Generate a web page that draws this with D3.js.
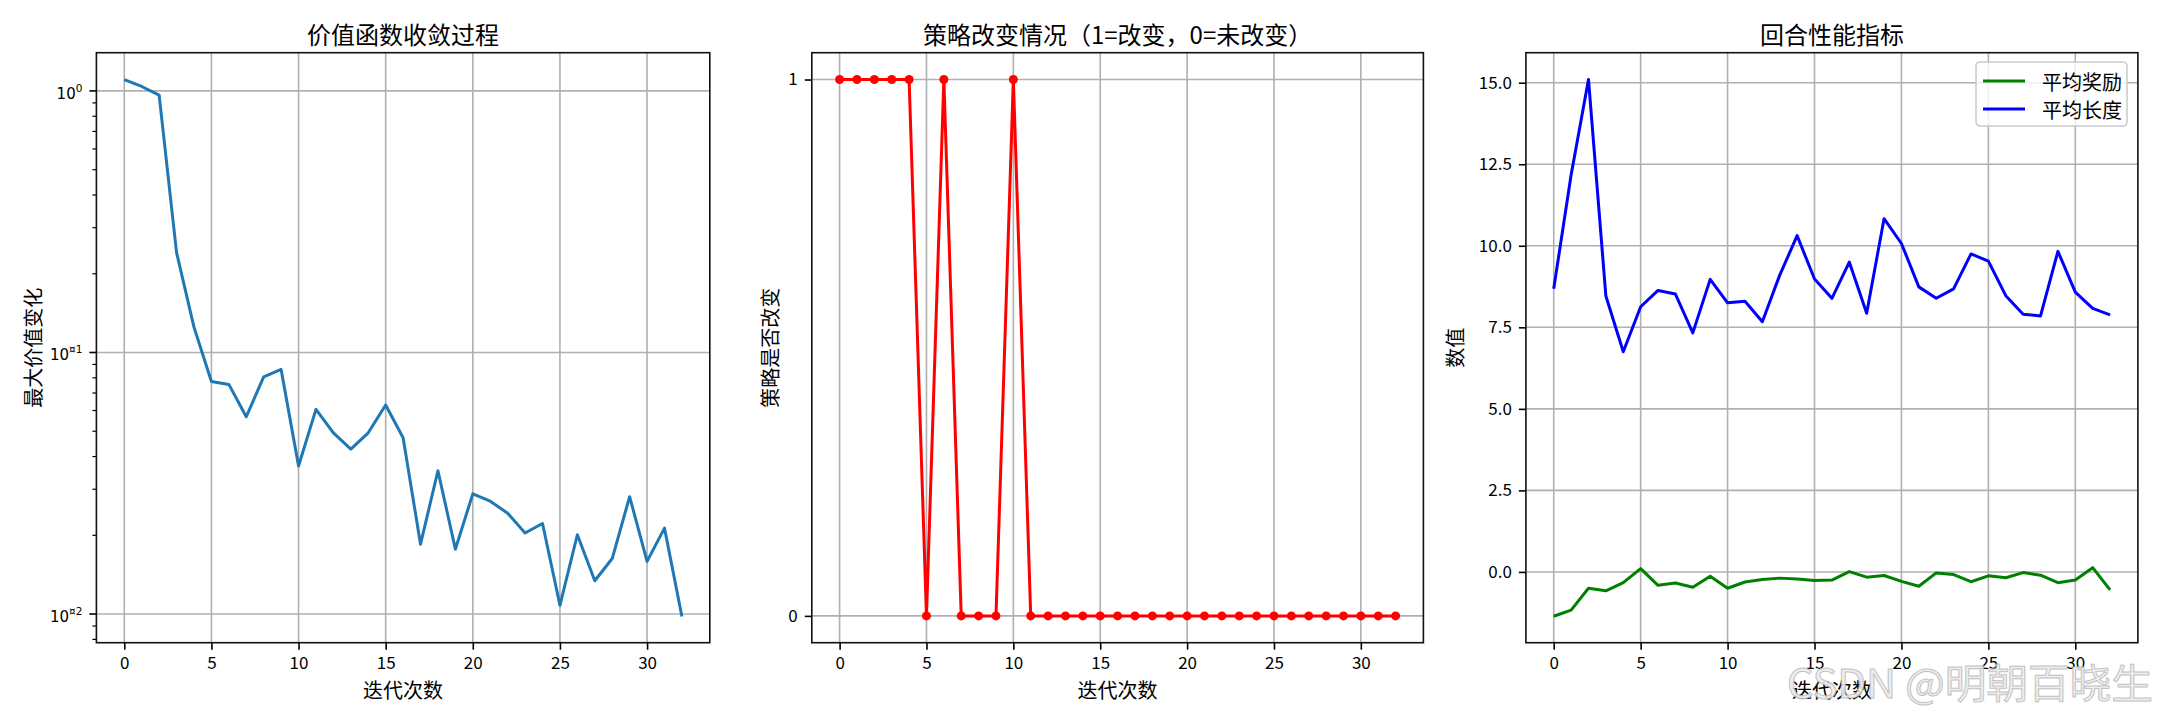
<!DOCTYPE html>
<html>
<head>
<meta charset="utf-8">
<script src="https://cdn.jsdelivr.net/npm/d3@7"></script>
<style>
  body { margin: 0; background: #fff; }
  svg { display: block; font-family: "Noto Sans CJK SC", "Noto Sans", sans-serif; }
</style>
</head>
<body>
<svg id="chart" width="2160" height="720"></svg>
<script>
// iteration index on the x axis
const iterations = [0,1,2,3,4,5,6,7,8,9,10,11,12,13,14,15,16,17,18,19,20,21,22,23,24,25,26,27,28,29,30,31,32];
const xTicks = [0, 5, 10, 15, 20, 25, 30];

// panel 1: max value change per iteration (log scale)
const maxDelta = [1.105, 1.04, 0.963, 0.241, 0.125, 0.0775, 0.0755, 0.0568, 0.0807, 0.0861,
  0.0368, 0.0606, 0.0493, 0.0427, 0.0493, 0.0630, 0.0472, 0.0185, 0.0353, 0.0177,
  0.0288, 0.0270, 0.0243, 0.0204, 0.0222, 0.0108, 0.0201, 0.0134, 0.0163, 0.0281,
  0.0159, 0.0213, 0.00978];
const logTicks = [1, 0.1, 0.01];
const logTickLabels = ["0", "¤1", "¤2"];

// panel 2: policy changed (1) or not (0)
const policyChanged = [1,1,1,1,1,0,1,0,0,0,1,0,0,0,0,0,0,0,0,0,0,0,0,0,0,0,0,0,0,0,0,0,0];
const policyTicks = [0, 1];

// panel 3: episode metrics
const avgReward = [-1.36, -1.17, -0.50, -0.58, -0.33, 0.10, -0.41, -0.34, -0.47, -0.13,
  -0.50, -0.31, -0.23, -0.19, -0.22, -0.26, -0.25, 0.01, -0.16, -0.11,
  -0.29, -0.44, -0.03, -0.08, -0.30, -0.12, -0.18, -0.02, -0.10, -0.33,
  -0.25, 0.13, -0.55];
const avgLength = [8.68, 12.17, 15.10, 8.46, 6.75, 8.13, 8.63, 8.52, 7.33, 8.97,
  8.25, 8.30, 7.67, 9.10, 10.31, 8.98, 8.39, 9.50, 7.93, 10.83,
  10.07, 8.74, 8.39, 8.68, 9.75, 9.53, 8.47, 7.90, 7.85, 9.83,
  8.58, 8.08, 7.88];
const metricTicks = [0, 2.5, 5, 7.5, 10, 12.5, 15];
const metricNames = ["平均奖励", "平均长度"];
const metricColors = ["green", "blue"];

const titles = ["价值函数收敛过程", "策略改变情况（1=改变，0=未改变）", "回合性能指标"];
const yLabels = ["最大价值变化", "策略是否改变", "数值"];
const xLabel = "迭代次数";

// layout
const plotTop = 52.7, plotBottom = 642.7;
const panels = [
  { left: 96.4, right: 709.8, ylab: 32 },
  { left: 811.8, right: 1423.4, ylab: 769 },
  { left: 1525.9, right: 2137.9, ylab: 1454 }
];
const gridColor = "#b0b0b0";
const tickLen = 7, tickPad = 7;

const svg = d3.select("#chart");

function xScale(p) {
  return d3.scaleLinear().domain([-1.6, 33.6]).range([p.left, p.right]);
}

function drawFrame(i, x, y, yTicks, yFormat) {
  const p = panels[i];
  const g = svg.append("g");

  // grid
  g.selectAll(".vg").data(xTicks).enter().append("line")
    .attr("x1", d => x(d)).attr("x2", d => x(d))
    .attr("y1", plotTop).attr("y2", plotBottom)
    .attr("stroke", gridColor).attr("stroke-width", 1.6);
  g.selectAll(".hg").data(yTicks).enter().append("line")
    .attr("x1", p.left).attr("x2", p.right)
    .attr("y1", d => y(d)).attr("y2", d => y(d))
    .attr("stroke", gridColor).attr("stroke-width", 1.6);

  // x axis
  const xa = svg.append("g").attr("transform", `translate(0,${plotBottom})`)
    .call(d3.axisBottom(x).tickValues(xTicks).tickSize(tickLen).tickPadding(tickPad).tickFormat(d3.format("d")));
  xa.select(".domain").remove();
  xa.selectAll("line").attr("stroke", "#000").attr("stroke-width", 1.6);
  xa.selectAll("text").attr("font-size", 17).attr("fill", "#000")
    .attr("font-family", "Noto Sans CJK SC");

  // y axis
  if (yFormat) {
    const ya = svg.append("g").attr("transform", `translate(${p.left},0)`)
      .call(d3.axisLeft(y).tickValues(yTicks).tickSize(tickLen).tickPadding(tickPad).tickFormat(yFormat));
    ya.select(".domain").remove();
    ya.selectAll("line").attr("stroke", "#000").attr("stroke-width", 1.6);
    ya.selectAll("text").attr("font-size", 17).attr("fill", "#000")
      .attr("font-family", "Noto Sans CJK SC");
  }

  // title and labels
  svg.append("text")
    .attr("x", (p.left + p.right) / 2).attr("y", 33)
    .attr("text-anchor", "middle").attr("dominant-baseline", "central")
    .attr("font-size", 24).text(titles[i]);
  svg.append("text")
    .attr("x", (p.left + p.right) / 2).attr("y", 689)
    .attr("text-anchor", "middle").attr("dominant-baseline", "central")
    .attr("font-size", 20).text(xLabel);
  svg.append("text")
    .attr("transform", `translate(${p.ylab},${(plotTop + plotBottom) / 2}) rotate(-90)`)
    .attr("text-anchor", "middle").attr("dominant-baseline", "central")
    .attr("font-size", 20).text(yLabels[i]);
}

function drawSpines(i) {
  const p = panels[i];
  svg.append("rect")
    .attr("x", p.left).attr("y", plotTop)
    .attr("width", p.right - p.left).attr("height", plotBottom - plotTop)
    .attr("fill", "none").attr("stroke", "#111").attr("stroke-width", 1.6);
}

// ---------- panel 1 ----------
{
  const x = xScale(panels[0]);
  const y = d3.scaleLog().domain([0.00777, 1.40]).range([plotBottom, plotTop]);
  drawFrame(0, x, y, logTicks, null);

  // log ticks (major + minor)
  const minor = [];
  [0.001, 0.01, 0.1, 1].forEach(b => {
    for (let k = 2; k <= 9; k++) {
      const v = b * k;
      if (v >= 0.00777 && v <= 1.40) minor.push(v);
    }
  });
  const left = panels[0].left;
  svg.append("g").selectAll("line").data(minor).enter().append("line")
    .attr("x1", left - 4).attr("x2", left)
    .attr("y1", d => y(d)).attr("y2", d => y(d))
    .attr("stroke", "#000").attr("stroke-width", 1.2);
  svg.append("g").selectAll("line").data(logTicks).enter().append("line")
    .attr("x1", left - tickLen).attr("x2", left)
    .attr("y1", d => y(d)).attr("y2", d => y(d))
    .attr("stroke", "#000").attr("stroke-width", 1.6);
  const lbl = svg.append("g").selectAll("text").data(logTicks).enter().append("text")
    .attr("x", left - tickLen - tickPad)
    .attr("y", d => y(d) + 8)
    .attr("text-anchor", "end")
    .attr("font-family", "DejaVu Sans")
    .attr("font-size", 15);
  lbl.append("tspan").text("10");
  lbl.append("tspan").attr("dy", -7).attr("font-size", 10.5).text((d, j) => logTickLabels[j]);

  svg.append("path")
    .datum(maxDelta)
    .attr("fill", "none").attr("stroke", "#1f77b4").attr("stroke-width", 3)
    .attr("stroke-linejoin", "round")
    .attr("d", d3.line().x((d, j) => x(iterations[j])).y(d => y(d)));
  drawSpines(0);
}

// ---------- panel 2 ----------
{
  const x = xScale(panels[1]);
  const y = d3.scaleLinear().domain([-0.05, 1.05]).range([plotBottom, plotTop]);
  drawFrame(1, x, y, policyTicks, d3.format("d"));
  svg.append("path")
    .datum(policyChanged)
    .attr("fill", "none").attr("stroke", "red").attr("stroke-width", 3)
    .attr("d", d3.line().x((d, j) => x(iterations[j])).y(d => y(d)));
  svg.append("g").selectAll("circle").data(policyChanged).enter().append("circle")
    .attr("cx", (d, j) => x(iterations[j])).attr("cy", d => y(d))
    .attr("r", 4.5).attr("fill", "red");
  drawSpines(1);
}

// ---------- panel 3 ----------
{
  const x = xScale(panels[2]);
  const y = d3.scaleLinear().domain([-2.17, 15.92]).range([plotBottom, plotTop]);
  drawFrame(2, x, y, metricTicks, d3.format(".1f"));
  [avgReward, avgLength].forEach((series, k) => {
    svg.append("path")
      .datum(series)
      .attr("fill", "none").attr("stroke", metricColors[k]).attr("stroke-width", 3)
      .attr("stroke-linejoin", "round")
      .attr("d", d3.line().x((d, j) => x(iterations[j])).y(d => y(d)));
  });
  drawSpines(2);

  // legend
  const lg = svg.append("g").attr("transform", "translate(1976,62)");
  lg.append("rect").attr("width", 151).attr("height", 64).attr("rx", 4)
    .attr("fill", "#fff").attr("fill-opacity", 0.8)
    .attr("stroke", "#cccccc").attr("stroke-width", 1.6);
  metricNames.forEach((name, k) => {
    const yy = 19 + k * 28;
    lg.append("line").attr("x1", 7).attr("x2", 49).attr("y1", yy).attr("y2", yy)
      .attr("stroke", metricColors[k]).attr("stroke-width", 3);
    lg.append("text").attr("x", 66).attr("y", yy)
      .attr("dominant-baseline", "central").attr("font-size", 20).text(name);
  });
}

// watermark
svg.append("text")
  .attr("x", 1787).attr("y", 698)
  .attr("font-size", 40)
  .attr("textLength", 366).attr("lengthAdjust", "spacingAndGlyphs")
  .attr("fill", "#ededed").attr("stroke", "#bdbdbd").attr("stroke-width", 1)
  .attr("opacity", 0.9)
  .text("CSDN @明朝百晓生");
</script>
</body>
</html>
